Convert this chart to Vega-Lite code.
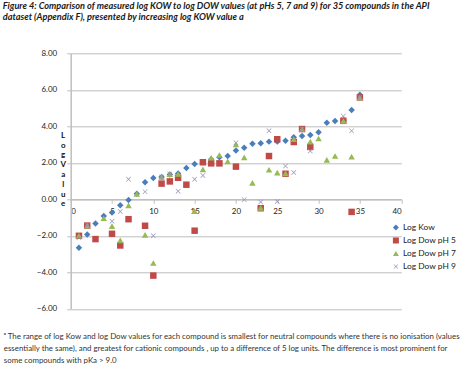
{
  "$schema": "https://vega.github.io/schema/vega-lite/v6.json",
  "autosize": "none",
  "width": 330.5,
  "height": 255.5,
  "padding": {"left": 70.7, "top": 53.3, "right": 73, "bottom": 58},
  "background": "white",
  "title": {
    "text": ["Figure 4: Comparison of measured log KOW to log DOW values (at pHs 5, 7 and 9) for 35 compounds in the API", "dataset (Appendix F), presented by increasing log KOW value a"],
    "anchor": "start",
    "frame": "group",
    "dx": -68,
    "offset": 27,
    "font": "Lato",
    "fontStyle": "italic",
    "fontWeight": "bold",
    "fontSize": 9.2,
    "lineHeight": 11.5,
    "color": "#1a1a1a"
  },
  "datasets": {
    "pts": [
      {"x": 1, "series": "Log Kow", "v": -2.65}, {"x": 2, "series": "Log Kow", "v": -1.93}, {"x": 3, "series": "Log Kow", "v": -1.33}, {"x": 4, "series": "Log Kow", "v": -0.91}, {"x": 5, "series": "Log Kow", "v": -0.73}, {"x": 6, "series": "Log Kow", "v": -0.33}, {"x": 7, "series": "Log Kow", "v": -0.04}, {"x": 8, "series": "Log Kow", "v": 0.3}, {"x": 9, "series": "Log Kow", "v": 0.93}, {"x": 10, "series": "Log Kow", "v": 1.17}, {"x": 11, "series": "Log Kow", "v": 1.22}, {"x": 12, "series": "Log Kow", "v": 1.36}, {"x": 13, "series": "Log Kow", "v": 1.42}, {"x": 14, "series": "Log Kow", "v": 1.72}, {"x": 15, "series": "Log Kow", "v": 1.94}, {"x": 16, "series": "Log Kow", "v": 2.05}, {"x": 17, "series": "Log Kow", "v": 2.2}, {"x": 18, "series": "Log Kow", "v": 2.3}, {"x": 19, "series": "Log Kow", "v": 2.37}, {"x": 20, "series": "Log Kow", "v": 2.68}, {"x": 21, "series": "Log Kow", "v": 2.83}, {"x": 22, "series": "Log Kow", "v": 3.05}, {"x": 23, "series": "Log Kow", "v": 3.07}, {"x": 24, "series": "Log Kow", "v": 3.16}, {"x": 25, "series": "Log Kow", "v": 3.16}, {"x": 26, "series": "Log Kow", "v": 3.21}, {"x": 27, "series": "Log Kow", "v": 3.4}, {"x": 28, "series": "Log Kow", "v": 3.47}, {"x": 29, "series": "Log Kow", "v": 3.52}, {"x": 30, "series": "Log Kow", "v": 3.67}, {"x": 31, "series": "Log Kow", "v": 4.2}, {"x": 32, "series": "Log Kow", "v": 4.29}, {"x": 33, "series": "Log Kow", "v": 4.33}, {"x": 34, "series": "Log Kow", "v": 4.89}, {"x": 35, "series": "Log Kow", "v": 5.73},
      {"x": 1, "series": "Log Dow pH 5", "v": -2.0}, {"x": 2, "series": "Log Dow pH 5", "v": -1.44}, {"x": 3, "series": "Log Dow pH 5", "v": -2.18}, {"x": 5, "series": "Log Dow pH 5", "v": -1.89}, {"x": 6, "series": "Log Dow pH 5", "v": -2.53}, {"x": 7, "series": "Log Dow pH 5", "v": -1.09}, {"x": 9, "series": "Log Dow pH 5", "v": -1.45}, {"x": 10, "series": "Log Dow pH 5", "v": -4.18}, {"x": 11, "series": "Log Dow pH 5", "v": 0.86}, {"x": 12, "series": "Log Dow pH 5", "v": 0.98}, {"x": 13, "series": "Log Dow pH 5", "v": 1.18}, {"x": 14, "series": "Log Dow pH 5", "v": 0.8}, {"x": 15, "series": "Log Dow pH 5", "v": -1.72}, {"x": 16, "series": "Log Dow pH 5", "v": 2.03}, {"x": 17, "series": "Log Dow pH 5", "v": 1.97}, {"x": 18, "series": "Log Dow pH 5", "v": 1.97}, {"x": 20, "series": "Log Dow pH 5", "v": 1.79}, {"x": 23, "series": "Log Dow pH 5", "v": -0.49}, {"x": 24, "series": "Log Dow pH 5", "v": 2.37}, {"x": 25, "series": "Log Dow pH 5", "v": 3.29}, {"x": 26, "series": "Log Dow pH 5", "v": 1.4}, {"x": 27, "series": "Log Dow pH 5", "v": 3.14}, {"x": 28, "series": "Log Dow pH 5", "v": 3.85}, {"x": 29, "series": "Log Dow pH 5", "v": 2.87}, {"x": 33, "series": "Log Dow pH 5", "v": 4.3}, {"x": 34, "series": "Log Dow pH 5", "v": -0.69}, {"x": 35, "series": "Log Dow pH 5", "v": 5.58},
      {"x": 1, "series": "Log Dow pH 7", "v": -2.0}, {"x": 2, "series": "Log Dow pH 7", "v": -1.44}, {"x": 4, "series": "Log Dow pH 7", "v": -1.04}, {"x": 5, "series": "Log Dow pH 7", "v": -1.47}, {"x": 6, "series": "Log Dow pH 7", "v": -2.25}, {"x": 7, "series": "Log Dow pH 7", "v": -0.33}, {"x": 8, "series": "Log Dow pH 7", "v": 0.3}, {"x": 9, "series": "Log Dow pH 7", "v": -1.95}, {"x": 10, "series": "Log Dow pH 7", "v": -3.49}, {"x": 11, "series": "Log Dow pH 7", "v": 1.22}, {"x": 12, "series": "Log Dow pH 7", "v": 1.38}, {"x": 13, "series": "Log Dow pH 7", "v": 1.39}, {"x": 15, "series": "Log Dow pH 7", "v": -0.65}, {"x": 16, "series": "Log Dow pH 7", "v": 1.64}, {"x": 17, "series": "Log Dow pH 7", "v": 2.28}, {"x": 18, "series": "Log Dow pH 7", "v": 2.43}, {"x": 19, "series": "Log Dow pH 7", "v": 2.08}, {"x": 20, "series": "Log Dow pH 7", "v": 3.0}, {"x": 21, "series": "Log Dow pH 7", "v": 2.3}, {"x": 22, "series": "Log Dow pH 7", "v": 0.9}, {"x": 23, "series": "Log Dow pH 7", "v": -0.47}, {"x": 24, "series": "Log Dow pH 7", "v": 1.62}, {"x": 25, "series": "Log Dow pH 7", "v": 1.46}, {"x": 26, "series": "Log Dow pH 7", "v": 1.42}, {"x": 27, "series": "Log Dow pH 7", "v": 3.3}, {"x": 28, "series": "Log Dow pH 7", "v": 3.85}, {"x": 29, "series": "Log Dow pH 7", "v": 3.16}, {"x": 30, "series": "Log Dow pH 7", "v": 3.33}, {"x": 31, "series": "Log Dow pH 7", "v": 2.16}, {"x": 32, "series": "Log Dow pH 7", "v": 2.37}, {"x": 33, "series": "Log Dow pH 7", "v": 4.3}, {"x": 34, "series": "Log Dow pH 7", "v": 2.34}, {"x": 35, "series": "Log Dow pH 7", "v": 5.58},
      {"x": 1, "series": "Log Dow pH 9", "v": -2.1}, {"x": 2, "series": "Log Dow pH 9", "v": -1.44}, {"x": 5, "series": "Log Dow pH 9", "v": -1.2}, {"x": 6, "series": "Log Dow pH 9", "v": -0.67}, {"x": 7, "series": "Log Dow pH 9", "v": 1.1}, {"x": 9, "series": "Log Dow pH 9", "v": 0.42}, {"x": 10, "series": "Log Dow pH 9", "v": -2.0}, {"x": 11, "series": "Log Dow pH 9", "v": 1.22}, {"x": 12, "series": "Log Dow pH 9", "v": 1.38}, {"x": 13, "series": "Log Dow pH 9", "v": 0.44}, {"x": 15, "series": "Log Dow pH 9", "v": 1.1}, {"x": 16, "series": "Log Dow pH 9", "v": 1.3}, {"x": 20, "series": "Log Dow pH 9", "v": 3.1}, {"x": 21, "series": "Log Dow pH 9", "v": -0.02}, {"x": 23, "series": "Log Dow pH 9", "v": -0.15}, {"x": 24, "series": "Log Dow pH 9", "v": 3.76}, {"x": 25, "series": "Log Dow pH 9", "v": -0.12}, {"x": 26, "series": "Log Dow pH 9", "v": 1.82}, {"x": 27, "series": "Log Dow pH 9", "v": 1.47}, {"x": 28, "series": "Log Dow pH 9", "v": 3.85}, {"x": 29, "series": "Log Dow pH 9", "v": 2.65}, {"x": 33, "series": "Log Dow pH 9", "v": 4.56}, {"x": 34, "series": "Log Dow pH 9", "v": 3.75}, {"x": 35, "series": "Log Dow pH 9", "v": 5.58}
    ]
  },
  "data": {"name": "pts"},
  "mark": {"type": "point", "filled": true, "opacity": 1, "size": 42},
  "encoding": {
    "x": {
      "field": "x", "type": "quantitative",
      "scale": {"domain": [0, 40], "nice": false, "zero": false},
      "axis": {
        "values": [0, 5, 10, 15, 20, 25, 30, 35, 40],
        "offset": -109.5,
        "grid": false,
        "domainColor": "#BFBFBF", "domainWidth": 1.5,
        "tickColor": "#BFBFBF", "tickSize": 4,
        "labelFont": "Lato", "labelFontSize": 8, "labelColor": "#222", "labelPadding": 4,
        "title": ["ᵃ The range of log Kow and log Dow values for each compound is smallest for neutral compounds where there is no ionisation (values", "essentially the same), and greatest for cationic compounds , up to a difference of 5 log units.  The difference is most prominent for", "some compounds with pKa  > 9.0"],
        "titleX": -67.4, "titleY": 133, "titleAlign": "left", "titleBaseline": "top",
        "titleFont": "Lato", "titleFontSize": 7.9, "titleFontWeight": "normal", "titleColor": "#333", "titleLineHeight": 12
      }
    },
    "y": {
      "field": "v", "type": "quantitative",
      "scale": {"domain": [-6, 8], "nice": false, "zero": false},
      "axis": {
        "values": [-6, -4, -2, 0, 2, 4, 6, 8],
        "format": ".2f",
        "grid": true, "gridColor": "#BDBDBD", "gridWidth": 1,
        "domainColor": "#BFBFBF", "domainWidth": 1.5,
        "tickColor": "#BFBFBF", "tickSize": 4,
        "labelFont": "Lato", "labelFontSize": 8, "labelColor": "#222", "labelPadding": 10,
        "title": ["L", "o", "g", "", "V", "a", "l", "u", "e"],
        "titleAngle": 0, "titleX": -8, "titleY": 78, "titleAlign": "center", "titleBaseline": "top",
        "titleFont": "Lato", "titleFontSize": 8, "titleFontWeight": "bold", "titleColor": "#111", "titleLineHeight": 9.8
      }
    },
    "color": {
      "field": "series", "type": "nominal",
      "scale": {"domain": ["Log Kow", "Log Dow pH 5", "Log Dow pH 7", "Log Dow pH 9"], "range": ["#4A7EBB", "#BE4B48", "#98B954", "#948FBA"]},
      "legend": {
        "title": null, "orient": "none", "legendX": 321, "legendY": 170,
        "labelFont": "Lato", "labelFontSize": 8.4, "labelColor": "#222",
        "symbolSize": 36, "rowPadding": 4, "labelOffset": 3
      }
    },
    "shape": {
      "field": "series", "type": "nominal",
      "scale": {"domain": ["Log Kow", "Log Dow pH 5", "Log Dow pH 7", "Log Dow pH 9"], "range": ["diamond", "square", "triangle-up", "M0.77,-0.63L0.14,0L0.77,0.63L0.63,0.77L0,0.14L-0.63,0.77L-0.77,0.63L-0.14,0L-0.77,-0.63L-0.63,-0.77L0,-0.14L0.63,-0.77Z"]},
      "legend": null
    }
  },
  "config": {"view": {"stroke": null}}
}
